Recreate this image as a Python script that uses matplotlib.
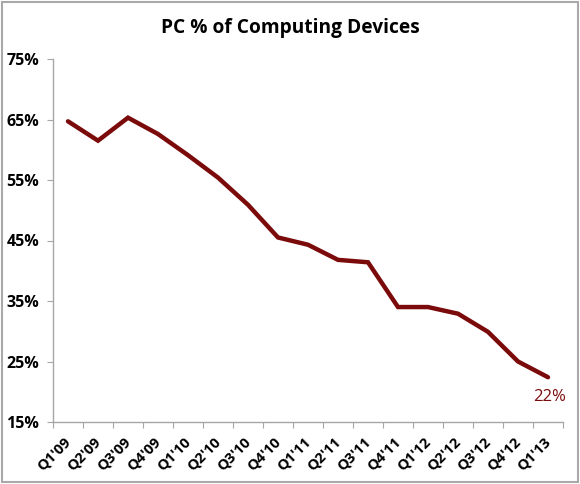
import matplotlib
matplotlib.use("Agg")
import matplotlib.pyplot as plt
from matplotlib.patches import Rectangle

quarters = ["Q1'09", "Q2'09", "Q3'09", "Q4'09", "Q1'10", "Q2'10", "Q3'10", "Q4'10",
            "Q1'11", "Q2'11", "Q3'11", "Q4'11", "Q1'12", "Q2'12", "Q3'12", "Q4'12", "Q1'13"]
pc_share = [64.7, 61.5, 65.3, 62.6, 59.1, 55.4, 50.9, 45.5,
            44.3, 41.8, 41.4, 34.0, 34.0, 32.9, 29.9, 25.0, 22.4]
y_ticks = [15, 25, 35, 45, 55, 65, 75]
last_label = "22%"

plt.rcParams['font.family'] = ['Open Sans', 'DejaVu Sans']
line_color = '#7b0a0a'
axis_gray = '#a6a6a6'

fig = plt.figure(figsize=(5.8, 4.84), dpi=100)
ax = fig.add_axes([53 / 580, 1 - 422 / 484, 510 / 580, 363 / 484])

x = list(range(len(quarters)))
ax.plot(x, pc_share, color=line_color, linewidth=3.2, solid_joinstyle='miter', solid_capstyle='round')
ax.text(x[-1] + 0.05, pc_share[-1] - 2.0, last_label, color=line_color, fontsize=12,
        ha='center', va='top')

ax.set_xlim(-0.5, len(quarters) - 0.5)
ax.set_ylim(15, 75)
ax.set_yticks(y_ticks)
ax.set_yticklabels([f"{v}%" for v in y_ticks], fontsize=11.5, fontweight='bold')

# boundary ticks, labels at category centres
ax.set_xticks([i - 0.5 for i in range(len(quarters) + 1)])
ax.set_xticklabels([])
ax.set_xticks(x, minor=True)
ax.set_xticklabels(quarters, minor=True, rotation=45, ha='right', va='center',
                   rotation_mode='anchor', fontsize=10.5, fontweight='bold')
ax.tick_params(axis='x', which='minor', length=0, pad=13)
ax.tick_params(axis='x', which='major', length=4, color=axis_gray, direction='out')
ax.tick_params(axis='y', length=4, color=axis_gray, direction='out', pad=6)

for side in ['top', 'right']:
    ax.spines[side].set_visible(False)
for side in ['left', 'bottom']:
    ax.spines[side].set_color(axis_gray)
    ax.spines[side].set_linewidth(1.0)

fig.text(0.5, 1 - 28 / 484, "PC % of Computing Devices", ha='center', va='center',
         fontsize=13.8, fontweight='bold')

fig.patches.append(Rectangle((1.5 / 580, 2 / 484), 576 / 580, 480 / 484,
                             transform=fig.transFigure, fill=False,
                             edgecolor='#a9a9a9', linewidth=1.5))

fig.savefig("out.png", dpi=100)
